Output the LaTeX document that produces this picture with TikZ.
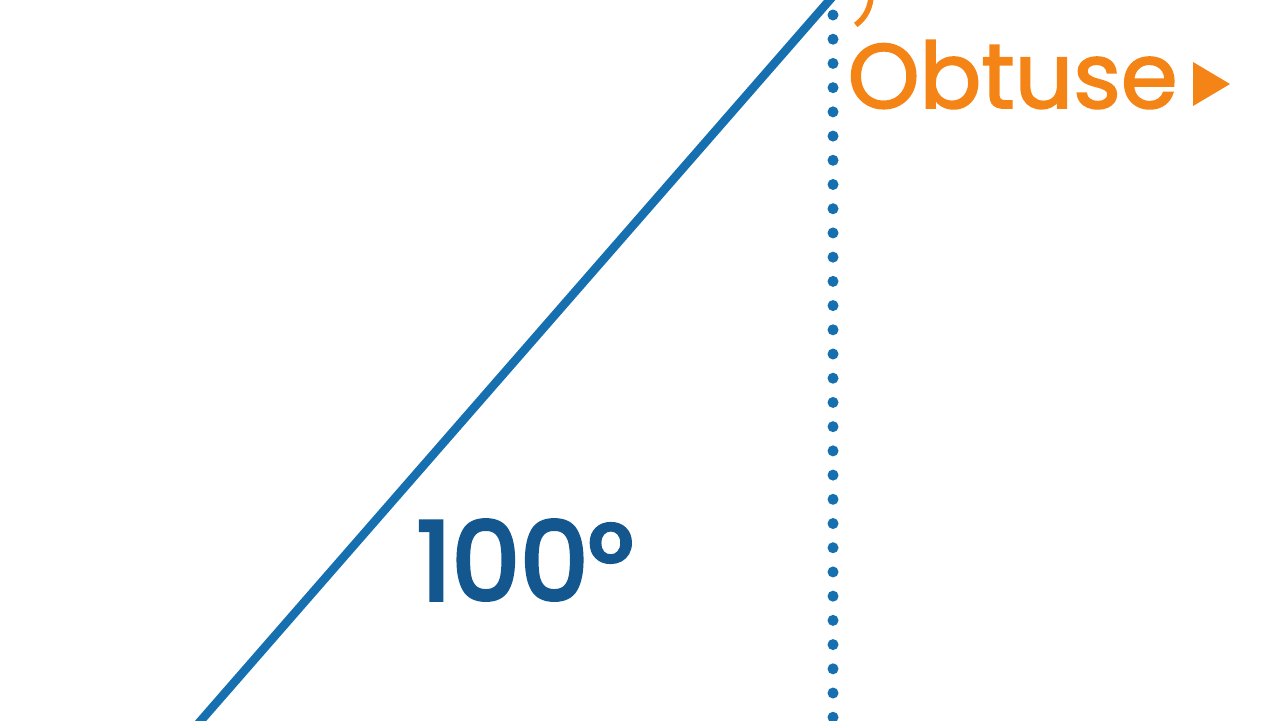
\documentclass[tikz,border=0pt]{standalone}
\usepackage{fontspec}
\setmainfont{Poppins}
\newfontfamily\obtfont[FakeBold=2]{Poppins}
\newfontfamily\degfont[FakeBold=3.5]{Poppins}
\definecolor{lineblue}{RGB}{22,112,176}
\definecolor{textblue}{RGB}{20,86,142}
\definecolor{obtorange}{RGB}{245,132,22}
\begin{document}
\begin{tikzpicture}[x=0.01cm,y=-0.01cm]
			\tikzstyle{every node}+=[inner sep=0pt]
			\useasboundingbox (0,0) rectangle (1280,720);
			\coordinate (foot) at (197,725);
			\coordinate (tip) at (834,-5);
			\coordinate (dtop) at (833,15);
			\coordinate (dbot) at (833,730);
			\draw [lineblue, line width=0.085cm] (foot) -- (tip);
			\draw [lineblue, line width=0.11cm, line cap=round, dash pattern=on 0pt off 0.242cm] (dtop) -- (dbot);
			\draw [obtorange, line width=0.055cm] (tip) ++(0:37) arc (0:54:37);
			\node [obtorange, anchor=base west, font=\fontsize{26}{30}\obtfont] (obtuse) at (847,108) {Obtuse};
			\fill [obtorange] (1193,62) -- (1230,84) -- (1193,106) -- cycle;
			\node [textblue, anchor=base west, font=\fontsize{31}{34}\degfont] (angle) at (416,600) {100°};
		\end{tikzpicture}
\end{document}
